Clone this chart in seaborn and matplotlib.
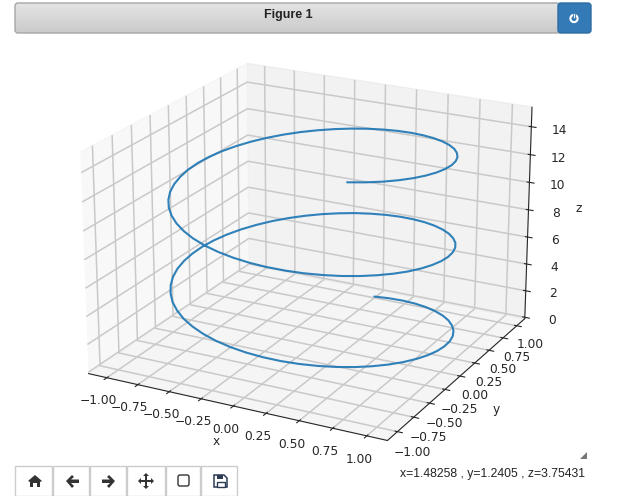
import matplotlib
matplotlib.use('Agg')
import numpy as np
import matplotlib.pyplot as plt
import seaborn as sns
from matplotlib.patches import FancyBboxPatch, Polygon, Rectangle, Circle

# helix, one point every eighth of a z unit
z_vals = [0.0, 0.125, 0.25, 0.375, 0.5, 0.625, 0.75, 0.875, 1.0, 1.125, 1.25, 1.375, 1.5, 1.625, 1.75, 1.875,
          2.0, 2.125, 2.25, 2.375, 2.5, 2.625, 2.75, 2.875, 3.0, 3.125, 3.25, 3.375, 3.5, 3.625, 3.75, 3.875,
          4.0, 4.125, 4.25, 4.375, 4.5, 4.625, 4.75, 4.875, 5.0, 5.125, 5.25, 5.375, 5.5, 5.625, 5.75, 5.875,
          6.0, 6.125, 6.25, 6.375, 6.5, 6.625, 6.75, 6.875, 7.0, 7.125, 7.25, 7.375, 7.5, 7.625, 7.75, 7.875,
          8.0, 8.125, 8.25, 8.375, 8.5, 8.625, 8.75, 8.875, 9.0, 9.125, 9.25, 9.375, 9.5, 9.625, 9.75, 9.875,
          10.0, 10.125, 10.25, 10.375, 10.5, 10.625, 10.75, 10.875, 11.0, 11.125, 11.25, 11.375, 11.5, 11.625, 11.75, 11.875,
          12.0, 12.125, 12.25, 12.375, 12.5, 12.625, 12.75, 12.875, 13.0, 13.125, 13.25, 13.375, 13.5, 13.625, 13.75, 13.875,
          14.0, 14.125, 14.25, 14.375, 14.5, 14.625, 14.75, 14.875, 15.0]
x_vals = [0.0, .125, .247, .366, .479, .585, .682, .768, .841, .902, .949, .981, .997, .999, .984, .954,
          .909, .850, .778, .694, .598, .494, .382, .264, .141, .017, -.108, -.231, -.351, -.465, -.572, -.669,
          -.757, -.832, -.895, -.944, -.978, -.996, -.999, -.987, -.959, -.916, -.859, -.788, -.706, -.612, -.508, -.397,
          -.279, -.158, -.033, .092, .215, .335, .451, .558, .657, .746, .823, .888, .938, .974, .995, 1.0,
          .989, .964, .922, .867, .798, .717, .625, .523, .412, .296, .174, .050, -.075, -.199, -.319, -.436,
          -.544, -.646, -.736, -.815, -.880, -.932, -.970, -.992, -1.0, -.992, -.968, -.929, -.875, -.808, -.727, -.638,
          -.537, -.427, -.310, -.190, -.066, .059, .182, .304, .420, .530, .632, .723, .804, .871, .927, .966,
          .991, 1.0, .994, .972, .935, .884, .818, .740, .650]
y_vals = [1.0, .992, .969, .931, .878, .811, .732, .641, .540, .431, .315, .195, .071, -.054, -.178, -.299,
          -.416, -.526, -.628, -.720, -.801, -.869, -.924, -.965, -.990, -1.0, -.994, -.973, -.936, -.885, -.821, -.743,
          -.654, -.554, -.446, -.331, -.211, -.087, .038, .162, .284, .401, .512, .615, .709, .791, .861, .918,
          .960, .988, .999, .996, .977, .942, .893, .830, .754, .666, .568, .461, .347, .227, .100, -.021,
          -.146, -.267, -.388, -.498, -.602, -.697, -.781, -.852, -.911, -.955, -.985, -.999, -.997, -.980, -.948, -.900,
          -.839, -.763, -.677, -.580, -.476, -.364, -.243, -.120, .004, .129, .251, .370, .483, .589, .687, .770,
          .844, .904, .951, .982, .998, .998, .983, .953, .907, .848, .775, .691, .595, .490, .376, .259,
          .137, .012, -.113, -.236, -.355, -.468, -.576, -.673, -.760]

xy_ticks = [-1.0, -0.75, -0.5, -0.25, 0.0, 0.25, 0.5, 0.75, 1.0]
z_ticks = [0, 2, 4, 6, 8, 10, 12, 14]
status_text = 'x=1.48258 , y=1.2405 , z=3.75431'
title_text = 'Figure 1'

sns.set_style('white')
plt.rcParams['font.family'] = ['DejaVu Sans']
line_color = sns.color_palette('tab10')[0]

W, H = 624, 496
fig = plt.figure(figsize=(W / 100, H / 100), dpi=100)

# 3d plot
ax = fig.add_axes([0.006, 0.056, 0.97, 0.90], projection='3d')
ax.view_init(elev=21, azim=-62.5)
ax.set_box_aspect((4, 4, 2.82), zoom=1.13)
ax.patch.set_alpha(0)
ax.plot(x_vals, y_vals, z_vals, color=line_color, lw=1.5, alpha=0.92)
ax.set_xticks(xy_ticks)
ax.set_yticks(xy_ticks)
ax.set_zticks(z_ticks)
ax.set_xticklabels([f'{t:.2f}'.replace('-', '\u2212') for t in xy_ticks])
ax.set_yticklabels([f'{t:.2f}'.replace('-', '\u2212') for t in xy_ticks])
ax.set_xlim(-1.15, 1.15)
ax.set_ylim(-1.15, 1.15)
ax.set_zlim(-0.1, 15.4)
ax.set_xlabel('x', fontsize=8.8, labelpad=-4)
ax.set_ylabel('y', fontsize=8.8, labelpad=-1)
ax.set_zlabel('z', fontsize=8.8, labelpad=-1)
ax.tick_params(labelsize=8.8, pad=0)
ax.tick_params(axis='z', pad=3)
for axis in (ax.xaxis, ax.yaxis, ax.zaxis):
    axis._axinfo['grid'].update(color=(0.79, 0.79, 0.79, 1), linewidth=1.1)
    axis._axinfo['tick']['inward_factor'] = 0.2
    axis._axinfo['tick']['outward_factor'] = 0.1

# widget chrome, drawn in pixel coordinates on top
ui = fig.add_axes([0, 0, 1, 1], zorder=5)
ui.set_xlim(0, W)
ui.set_ylim(H, 0)
ui.axis('off')
ui.patch.set_alpha(0)

bar = FancyBboxPatch((15, 3), 545, 30, boxstyle='round,pad=0,rounding_size=3',
                     fc='none', ec='#a6a6a6', lw=1)
ui.add_patch(bar)
grad = np.linspace(0.89, 0.79, 30).reshape(-1, 1)
im = ui.imshow(grad, extent=(15, 560, 33, 3), cmap='gray', vmin=0, vmax=1, aspect='auto', zorder=0.5)
im.set_clip_path(bar)
ui.set_xlim(0, W)
ui.set_ylim(H, 0)
ui.text(288, 15, title_text, ha='center', va='center', fontsize=9, fontweight='bold',
        family='Liberation Sans', color='#222222')

ui.add_patch(FancyBboxPatch((558, 3), 33, 30, boxstyle='round,pad=0,rounding_size=3',
                            fc='#337ab7', ec='#2e6da4', lw=1))
ui.add_patch(Circle((574, 18.5), 3.6, fc='none', ec='white', lw=1.5))
ui.add_patch(Rectangle((573, 12.5), 2, 5.5, fc='white', ec='#337ab7', lw=0.6))

# toolbar buttons
for left, right in [(15, 52), (53, 89), (90, 126), (127, 165), (166, 200), (201, 237)]:
    ui.add_patch(Rectangle((left, 466), right - left, 30, fc='white', ec='#cccccc', lw=1))
dark = '#333333'
# home
ui.add_patch(Polygon([(28, 481), (35, 475), (42, 481), (40, 482), (40, 487), (37, 487), (37, 483), (33, 483), (33, 487), (30, 487), (30, 482)], fc=dark, ec='none'))
# back and forward
ui.add_patch(Polygon([(66, 481), (72, 475), (74, 477), (71, 479.5), (79, 479.5), (79, 483), (71, 483), (74, 486), (72, 488)], fc=dark, ec='none'))
ui.add_patch(Polygon([(115, 481), (109, 475), (107, 477), (110, 479.5), (102, 479.5), (102, 483), (110, 483), (107, 486), (109, 488)], fc=dark, ec='none'))
# move
ui.add_patch(Polygon([(146, 473), (149, 476), (147, 476), (147, 480), (151, 480), (151, 478), (154, 481), (151, 484), (151, 482),
                      (147, 482), (147, 486), (149, 486), (146, 489), (143, 486), (145, 486), (145, 482), (141, 482), (141, 484),
                      (138, 481), (141, 478), (141, 480), (145, 480), (145, 476), (143, 476)], fc=dark, ec='none'))
# zoom rectangle
ui.add_patch(FancyBboxPatch((178, 475), 11, 11, boxstyle='round,pad=0,rounding_size=2', fc='white', ec=dark, lw=1))
# save
ui.add_patch(Polygon([(214, 475), (224, 475), (227, 478), (227, 487), (214, 487)], fc='white', ec='#2b3a55', lw=1.1))
ui.add_patch(Rectangle((217, 475), 6, 3.5, fc='#2b3a55', ec='none'))
ui.add_patch(Rectangle((216.5, 482), 8, 5, fc='white', ec='#2b3a55', lw=1))

# resize grip and status
ui.add_patch(Polygon([(580, 459), (587, 452), (587, 459)], fc='#777777', ec='none'))
ui.text(400, 474, status_text, ha='left', va='center', fontsize=8.8, family='Liberation Sans', color='#222222')

fig.savefig('out.png', dpi=100, facecolor='white')
